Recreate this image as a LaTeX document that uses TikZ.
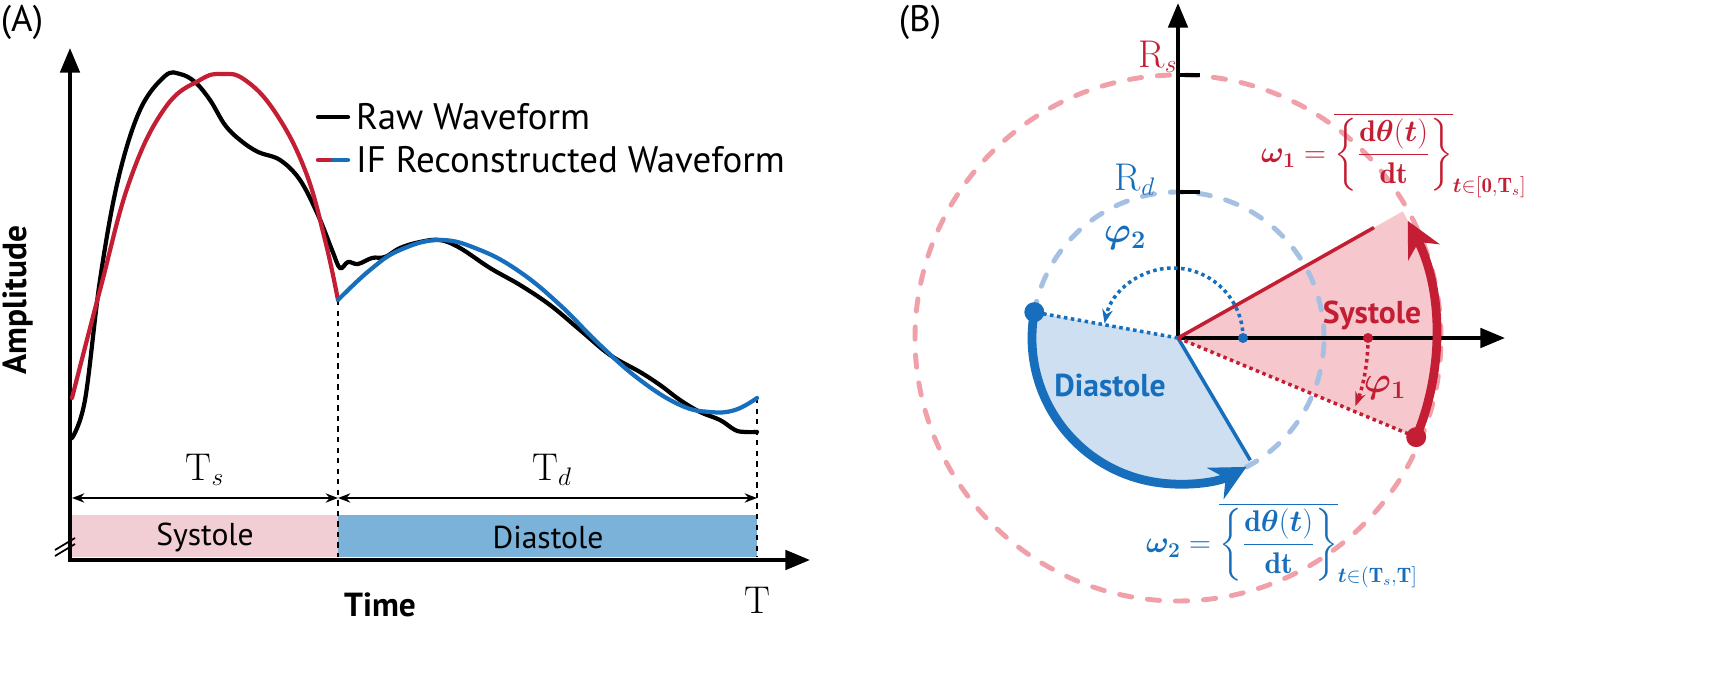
\documentclass[tikz,border=0pt]{standalone}
\usepackage{amsmath,bm}
\usepackage{fontspec}
\setsansfont{PT Sans}
\usetikzlibrary{arrows.meta}
\definecolor{cr}{RGB}{196,30,52}
\definecolor{cb}{RGB}{22,110,188}
\definecolor{lr}{RGB}{240,160,168}
\definecolor{lb}{RGB}{165,192,226}
\definecolor{fr}{RGB}{246,200,206}
\definecolor{fb}{RGB}{205,223,240}
\definecolor{sysbox}{RGB}{241,206,211}
\definecolor{diabox}{RGB}{122,178,218}
\tikzset{
 ax/.style={line width=2.2pt,-{Triangle[length=14pt,width=11pt]}},
 wave/.style={line width=2.4pt,line cap=round},
 dashc/.style={line width=2.8pt,line cap=round,dash pattern=on 7pt off 9pt},
 lab/.style={font=\sffamily\fontsize{21}{24}\selectfont},
 boxlab/.style={font=\sffamily\fontsize{18}{20}\selectfont},
 axlab/.style={font=\sffamily\bfseries\fontsize{19}{22}\selectfont},
}
\begin{document}
\begin{tikzpicture}[x=0.02cm,y=-0.02cm]
% ---------- Panel A
\node[lab] (A) at (22,22) {(A)};
\fill[sysbox] (72,515) rectangle (338,557);
\fill[diabox] (338,515) rectangle (757,557);
\node[boxlab] (sys) at (205,537) {Systole};
\node[boxlab] (dia) at (548,537) {Diastole};
\draw[ax] (70,562) -- (70,48);
\draw[ax] (68,560) -- (810,560);
\draw[line width=1pt] (55,550) -- (75,538) (55,556) -- (75,544);
\draw[dashed,line width=0.9pt] (338,300) -- (338,557);
\draw[dashed,line width=0.9pt] (757,398) -- (757,557);
\draw[line width=1.1pt,{Stealth[length=7pt]}-{Stealth[length=7pt]}] (72,498) -- (338,498);
\draw[line width=1.1pt,{Stealth[length=7pt]}-{Stealth[length=7pt]}] (338,498) -- (757,498);
\node (Ts) at (205,470) {\fontsize{22}{24}\selectfont $\mathrm{T}_s$};
\node (Td) at (552,470) {\fontsize{22}{24}\selectfont $\mathrm{T}_d$};
\node (T) at (757,600) {\fontsize{22}{24}\selectfont $\mathrm{T}$};
\node[axlab] (time) at (380,605) {Time};
\node[axlab,rotate=90] (amp) at (18,300) {Amplitude};
% raw waveform
\draw[wave,black] plot[smooth,tension=0.6] coordinates {(72,438) (85,400) (100,280) (118,180) (140,110) (165,76) (180,74) (195,82) (210,100) (225,125) (240,140) (258,152) (280,160) (300,180) (318,215) (332,250) (340,268) (348,262) (358,264) (372,258) (385,257) (400,248) (420,242) (440,240) (460,248) (490,268) (520,285) (550,305) (580,330) (610,355) (640,372) (660,385) (680,400) (700,412) (720,420) (735,430) (745,432) (757,432)};
\draw[wave,cr] plot[smooth,tension=0.7] coordinates {(72,398) (100,290) (130,180) (165,108) (200,80) (222,74) (245,80) (275,112) (305,170) (325,240) (338,300)};
\draw[wave,cb] plot[smooth,tension=0.7] coordinates {(338,300) (370,270) (400,250) (440,240) (480,250) (520,272) (560,305) (600,345) (640,380) (680,405) (710,412) (735,410) (757,398)};
% legend
\draw[wave,black] (318,117) -- (348,117);
\node[lab,anchor=west] (l1) at (350,117) {Raw Waveform};
\draw[wave,cr] (318,160) -- (333,160);
\draw[wave,cb] (333,160) -- (348,160);
\node[lab,anchor=west] (l2) at (350,160) {IF Reconstructed Waveform};
% ---------- Panel B
\node[lab] (B) at (920,22) {(B)};
\begin{scope}[shift={(1178,338)},yscale=-1]
 \coordinate (O) at (0,0);
 \fill[fr] (O) -- (-22.6:258) arc[start angle=-22.6,end angle=29.4,radius=258] -- cycle;
 \fill[fb] (O) -- (169.8:146) arc[start angle=169.8,end angle=300.6,radius=146] -- cycle;
 \draw[dashc,lr] (O) circle (263);
 \draw[dashc,lb] (O) circle (146);
 \draw[ax] (0,0) -- (0,335);
 \draw[ax] (0,0) -- (327,0);
 \draw[line width=2.2pt] (0,263) -- (22,263) (0,146) -- (22,146);
 \draw[line width=2pt,cr] (O) -- (29.4:225);
 \draw[line width=2pt,cb] (O) -- (300.6:142);
 \draw[line width=2pt,cr,dotted] (O) -- (-22.6:258);
 \draw[line width=2pt,cb,dotted] (O) -- (169.8:146);
 \draw[line width=5pt,cr,-{Stealth[length=20pt,width=20pt]}] (-22.6:258) arc[start angle=-22.6,end angle=27,radius=258];
 \draw[line width=5pt,cb,-{Stealth[length=20pt,width=20pt]}] (169.8:146) arc[start angle=169.8,end angle=298,radius=146];
 \fill[cr] (-22.6:258) circle (10);
 \fill[cb] (169.8:146) circle (10);
 \fill[cr] (190,0) circle (5);
 \fill[cb] (65,0) circle (5);
 \draw[line width=2pt,cr,dotted,-{Stealth[length=8pt]}] (190,0) arc[start angle=0,end angle=-21,radius=190];
 \draw[line width=2pt,cb,dotted,-{Stealth[length=8pt]}] (65,0) arc[start angle=0,end angle=168,radius=70];
\end{scope}
\node[text=cr] (Rs) at (1158,57) {\fontsize{22}{24}\selectfont $\mathrm{R}_s$};
\node[text=cb] (Rd) at (1135,180) {\fontsize{22}{24}\selectfont $\mathrm{R}_d$};
\node[text=cb] (p2) at (1125,238) {\fontsize{22}{24}\selectfont $\bm{\varphi_2}$};
\node[text=cr] (p1) at (1385,388) {\fontsize{22}{24}\selectfont $\bm{\varphi_1}$};
\node[text=cr,font=\sffamily\bfseries\fontsize{18}{20}\selectfont] (st) at (1372,315) {Systole};
\node[text=cb,font=\sffamily\bfseries\fontsize{18}{20}\selectfont] (dt) at (1110,385) {Diastole};
\node[text=cr,anchor=west] (w1) at (1255,155) {\fontsize{17}{20}\selectfont $\bm{\omega_1}=\overline{\left\{\dfrac{\mathbf{d}\bm{\theta}(\bm{t})}{\mathbf{dt}}\right\}}_{\bm{t}\in[\mathbf{0},\mathbf{T}_s]}$};
\node[text=cb,anchor=west] (w2) at (1140,545) {\fontsize{17}{20}\selectfont $\bm{\omega_2}=\overline{\left\{\dfrac{\mathbf{d}\bm{\theta}(\bm{t})}{\mathbf{dt}}\right\}}_{\bm{t}\in(\mathbf{T}_s,\mathbf{T}]}$};
\pgfresetboundingbox
\path[use as bounding box] (0,0) rectangle (1720,678);
\end{tikzpicture}
\end{document}
